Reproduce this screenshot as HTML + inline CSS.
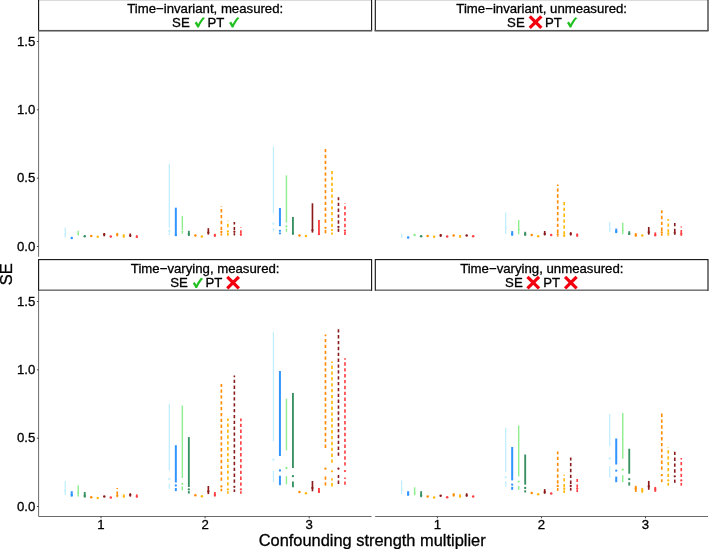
<!DOCTYPE html>
<html><head><meta charset="utf-8"><title>SE by confounding strength multiplier</title>
<style>
html,body{margin:0;padding:0;background:#fff}
svg{display:block}
text{font-family:"Liberation Sans",sans-serif;fill:#000;stroke:#000;stroke-width:.3px}
.tk{font-size:13.2px;fill:#000}
</style></head><body>
<svg width="709" height="549" viewBox="0 0 709 549">
<rect width="709" height="549" fill="#fff"/>
<!-- strips -->
<g fill="#fff" stroke="#111" stroke-width="1.1">
<rect x="38.6" y="-0.4" width="333" height="30.9"/>
<rect x="375.3" y="-0.4" width="332.7" height="30.9"/>
<rect x="38.6" y="259.6" width="333" height="30.7"/>
<rect x="375.3" y="259.6" width="332.7" height="30.7"/>
</g>
<path d="M39.2,290.3H371M375.7,290.3H707.4" stroke="#7a7a7a" stroke-width="1.2" fill="none"/>
<path d="M38.05,30.78H372.15M374.55,30.78H708.55" stroke="#555" stroke-width="1.66" fill="none"/>
<!-- axis lines -->
<g stroke="#6b6b6b" stroke-width="1" fill="none">
<path d="M38.6,30.5V256.8"/>
<path d="M38.6,290.6V516.5H371.6"/>
<path d="M375.1,516.5H708"/>
</g>
<!-- ticks -->
<g stroke="#333" stroke-width="0.9">
<path d="M36.9,41.5h1.7M36.9,109.8h1.7M36.9,178.2h1.7M36.9,246.5h1.7"/>
<path d="M36.9,301.5h1.7M36.9,369.8h1.7M36.9,438.2h1.7M36.9,506.5h1.7"/>
<path d="M101,516.5v1.8M205.1,516.5v1.8M309.2,516.5v1.8M437.4,516.5v1.8M541.45,516.5v1.8M645.5,516.5v1.8"/>
</g>
<g class="tk" text-anchor="end">
<text x="35.3" y="45.6">1.5</text><text x="35.3" y="113.9">1.0</text><text x="35.3" y="182.3">0.5</text><text x="35.3" y="250.6">0.0</text>
<text x="35.3" y="305.6">1.5</text><text x="35.3" y="373.9">1.0</text><text x="35.3" y="442.3">0.5</text><text x="35.3" y="510.6">0.0</text>
</g>
<g class="tk" text-anchor="middle">
<text x="101" y="529">1</text><text x="205.1" y="529">2</text><text x="309.2" y="529">3</text>
<text x="437.4" y="529">1</text><text x="541.45" y="529">2</text><text x="645.5" y="529">3</text>
</g>
<!-- strip labels -->
<g font-size="13.2" text-anchor="middle">
<text x="205.2" y="13.2">Time−invariant, measured:</text>
<text x="541.7" y="13.2">Time−invariant, unmeasured:</text>
<text x="205.2" y="273.3">Time−varying, measured:</text>
<text x="541.8" y="273.3">Time−varying, unmeasured:</text>
</g>
<g font-size="13.2">
<text x="172.1" y="26.5">SE</text><text x="207.5" y="26.5">PT</text>
<text x="507.1" y="26.5">SE</text><text x="544.9" y="26.5">PT</text>
<text x="170.2" y="287.1">SE</text><text x="205.4" y="287.1">PT</text>
<text x="505.1" y="287.1">SE</text><text x="543.3" y="287.1">PT</text>
</g>
<!-- check / cross icons -->
<path transform="translate(194.6,17.2)" d="M0,5.7 L1.9,4.2 L3.6,6.9 C4.8,4.2 6.4,1.9 8.3,0 L10.3,0.9 C7.8,3.6 5.8,6.8 4.3,10.3 L2.7,10.3 C2.0,8.6 1.1,7.0 0,5.7 Z" fill="#1FC01F"/><path transform="translate(229.1,17.2)" d="M0,5.7 L1.9,4.2 L3.6,6.9 C4.8,4.2 6.4,1.9 8.3,0 L10.3,0.9 C7.8,3.6 5.8,6.8 4.3,10.3 L2.7,10.3 C2.0,8.6 1.1,7.0 0,5.7 Z" fill="#1FC01F"/>
<g transform="translate(528.6,15.2)" stroke="#F2000E" stroke-width="3.2"><line x1="1.15" y1="1.15" x2="12.75" y2="12.75"/><line x1="12.75" y1="1.15" x2="1.15" y2="12.75"/></g><path transform="translate(567,17.2)" d="M0,5.7 L1.9,4.2 L3.6,6.9 C4.8,4.2 6.4,1.9 8.3,0 L10.3,0.9 C7.8,3.6 5.8,6.8 4.3,10.3 L2.7,10.3 C2.0,8.6 1.1,7.0 0,5.7 Z" fill="#1FC01F"/>
<path transform="translate(192.8,277.8)" d="M0,5.7 L1.9,4.2 L3.6,6.9 C4.8,4.2 6.4,1.9 8.3,0 L10.3,0.9 C7.8,3.6 5.8,6.8 4.3,10.3 L2.7,10.3 C2.0,8.6 1.1,7.0 0,5.7 Z" fill="#1FC01F"/><g transform="translate(226.1,275.7)" stroke="#F2000E" stroke-width="3.2"><line x1="1.15" y1="1.15" x2="12.75" y2="12.75"/><line x1="12.75" y1="1.15" x2="1.15" y2="12.75"/></g>
<g transform="translate(526.3,275.7)" stroke="#F2000E" stroke-width="3.2"><line x1="1.15" y1="1.15" x2="12.75" y2="12.75"/><line x1="12.75" y1="1.15" x2="1.15" y2="12.75"/></g><g transform="translate(563.9,275.7)" stroke="#F2000E" stroke-width="3.2"><line x1="1.15" y1="1.15" x2="12.75" y2="12.75"/><line x1="12.75" y1="1.15" x2="1.15" y2="12.75"/></g>
<!-- axis titles -->
<text x="372.2" y="546" font-size="16.4" text-anchor="middle">Confounding strength multiplier</text>
<text transform="translate(12.0,274.2) rotate(-90)" font-size="16.4" text-anchor="middle">SE</text>
<!-- data -->
<g fill="none">
<line x1="65.23" y1="237.50" x2="65.23" y2="227.50" stroke="#BFEFFF" stroke-width="1.25"/>
<circle cx="65.23" cy="234.30" r="0.9" fill="#BFEFFF"/>
<circle cx="71.73" cy="238.00" r="1.25" fill="#3095FF"/>
<line x1="78.24" y1="235.60" x2="78.24" y2="230.80" stroke="#90EE90" stroke-width="1.45"/>
<circle cx="78.24" cy="234.06" r="0.9" fill="#90EE90"/>
<circle cx="84.74" cy="236.30" r="1.25" fill="#369060"/>
<circle cx="91.24" cy="236.00" r="1.25" fill="#FF8C00"/>
<circle cx="97.75" cy="236.80" r="1.25" fill="#FFB90F"/>
<line x1="104.25" y1="236.30" x2="104.25" y2="233.00" stroke="#8B1A1A" stroke-width="1.65"/>
<circle cx="104.25" cy="234.50" r="1.15" fill="#8B1A1A"/>
<circle cx="110.76" cy="236.50" r="1.25" fill="#FF4044"/>
<line x1="117.26" y1="236.30" x2="117.26" y2="231.40" stroke="#FF8C00" stroke-width="1.65" stroke-dasharray="3.35 2.52"/>
<circle cx="117.26" cy="234.73" r="1.15" fill="#FF8C00"/>
<line x1="123.76" y1="237.50" x2="123.76" y2="234.20" stroke="#FFB90F" stroke-width="1.7" stroke-dasharray="3.35 2.52"/>
<circle cx="123.76" cy="236.44" r="1.15" fill="#FFB90F"/>
<line x1="130.27" y1="236.80" x2="130.27" y2="233.20" stroke="#8B1A1A" stroke-width="1.6" stroke-dasharray="3.35 2.52"/>
<circle cx="130.27" cy="235.65" r="1.15" fill="#8B1A1A"/>
<line x1="136.77" y1="237.80" x2="136.77" y2="235.20" stroke="#FF4044" stroke-width="1.65" stroke-dasharray="3.35 2.52"/>
<circle cx="136.77" cy="236.97" r="1.15" fill="#FF4044"/>
<line x1="169.33" y1="235.00" x2="169.33" y2="232.60" stroke="#BFEFFF" stroke-width="1.25"/>
<line x1="169.33" y1="227.80" x2="169.33" y2="163.70" stroke="#BFEFFF" stroke-width="1.25"/>
<circle cx="169.33" cy="231.00" r="1.15" fill="#BFEFFF"/>
<line x1="175.83" y1="236.10" x2="175.83" y2="207.70" stroke="#3095FF" stroke-width="2.0"/>
<circle cx="175.83" cy="235.00" r="1.15" fill="#3095FF"/>
<line x1="182.34" y1="233.80" x2="182.34" y2="232.80" stroke="#90EE90" stroke-width="1.45"/>
<line x1="182.34" y1="230.20" x2="182.34" y2="216.00" stroke="#90EE90" stroke-width="1.45"/>
<circle cx="182.34" cy="231.80" r="1.15" fill="#90EE90"/>
<line x1="188.84" y1="235.90" x2="188.84" y2="230.80" stroke="#369060" stroke-width="1.85"/>
<circle cx="188.84" cy="234.27" r="1.15" fill="#369060"/>
<circle cx="195.34" cy="235.50" r="1.25" fill="#FF8C00"/>
<circle cx="201.85" cy="236.50" r="1.25" fill="#FFB90F"/>
<line x1="208.35" y1="234.60" x2="208.35" y2="228.20" stroke="#8B1A1A" stroke-width="1.65"/>
<circle cx="208.35" cy="232.60" r="1.15" fill="#8B1A1A"/>
<line x1="214.86" y1="236.50" x2="214.86" y2="233.80" stroke="#FF4044" stroke-width="1.85"/>
<circle cx="214.86" cy="235.64" r="1.15" fill="#FF4044"/>
<line x1="221.36" y1="235.50" x2="221.36" y2="233.50" stroke="#FF8C00" stroke-width="1.65" stroke-dasharray="3.35 2.52"/>
<line x1="221.36" y1="230.00" x2="221.36" y2="206.00" stroke="#FF8C00" stroke-width="1.65" stroke-dasharray="3.35 2.52"/>
<circle cx="221.36" cy="232.00" r="1.15" fill="#FF8C00"/>
<line x1="227.86" y1="235.80" x2="227.86" y2="233.00" stroke="#FFB90F" stroke-width="1.7" stroke-dasharray="3.35 2.52"/>
<line x1="227.86" y1="227.20" x2="227.86" y2="220.70" stroke="#FFB90F" stroke-width="1.7" stroke-dasharray="3.35 2.52"/>
<circle cx="227.86" cy="231.50" r="1.15" fill="#FFB90F"/>
<line x1="234.37" y1="235.40" x2="234.37" y2="233.20" stroke="#8B1A1A" stroke-width="1.6" stroke-dasharray="3.35 2.52"/>
<line x1="234.37" y1="230.30" x2="234.37" y2="222.00" stroke="#8B1A1A" stroke-width="1.6" stroke-dasharray="3.35 2.52"/>
<circle cx="234.37" cy="231.80" r="1.15" fill="#8B1A1A"/>
<line x1="240.87" y1="235.80" x2="240.87" y2="235.00" stroke="#FF4044" stroke-width="1.65" stroke-dasharray="3.35 2.52"/>
<line x1="240.87" y1="233.50" x2="240.87" y2="227.30" stroke="#FF4044" stroke-width="1.65" stroke-dasharray="3.35 2.52"/>
<circle cx="240.87" cy="234.30" r="1.15" fill="#FF4044"/>
<line x1="273.43" y1="231.40" x2="273.43" y2="228.00" stroke="#BFEFFF" stroke-width="1.25"/>
<line x1="273.43" y1="213.50" x2="273.43" y2="146.40" stroke="#BFEFFF" stroke-width="1.25"/>
<circle cx="273.43" cy="223.70" r="1.15" fill="#BFEFFF"/>
<line x1="279.93" y1="234.30" x2="279.93" y2="232.50" stroke="#3095FF" stroke-width="2.0"/>
<line x1="279.93" y1="226.20" x2="279.93" y2="208.00" stroke="#3095FF" stroke-width="2.0"/>
<circle cx="279.93" cy="230.80" r="1.15" fill="#3095FF"/>
<line x1="286.44" y1="231.80" x2="286.44" y2="228.50" stroke="#90EE90" stroke-width="1.45"/>
<line x1="286.44" y1="222.70" x2="286.44" y2="175.40" stroke="#90EE90" stroke-width="1.45"/>
<circle cx="286.44" cy="226.40" r="1.15" fill="#90EE90"/>
<line x1="292.94" y1="234.70" x2="292.94" y2="217.00" stroke="#369060" stroke-width="1.85"/>
<circle cx="292.94" cy="233.20" r="1.15" fill="#369060"/>
<circle cx="299.44" cy="235.50" r="1.25" fill="#FF8C00"/>
<circle cx="305.95" cy="236.00" r="1.25" fill="#FFB90F"/>
<line x1="312.45" y1="232.60" x2="312.45" y2="203.30" stroke="#8B1A1A" stroke-width="1.65"/>
<circle cx="312.45" cy="230.30" r="1.15" fill="#8B1A1A"/>
<line x1="318.96" y1="235.10" x2="318.96" y2="220.10" stroke="#FF4044" stroke-width="1.85"/>
<circle cx="318.96" cy="234.20" r="1.15" fill="#FF4044"/>
<line x1="325.46" y1="233.30" x2="325.46" y2="230.00" stroke="#FF8C00" stroke-width="1.65" stroke-dasharray="3.35 2.52"/>
<line x1="325.46" y1="222.70" x2="325.46" y2="148.80" stroke="#FF8C00" stroke-width="1.65" stroke-dasharray="3.35 2.52"/>
<circle cx="325.46" cy="227.80" r="1.15" fill="#FF8C00"/>
<line x1="331.96" y1="234.70" x2="331.96" y2="232.40" stroke="#FFB90F" stroke-width="1.7" stroke-dasharray="3.35 2.52"/>
<line x1="331.96" y1="227.10" x2="331.96" y2="170.80" stroke="#FFB90F" stroke-width="1.7" stroke-dasharray="3.35 2.52"/>
<circle cx="331.96" cy="230.10" r="1.15" fill="#FFB90F"/>
<line x1="338.47" y1="231.90" x2="338.47" y2="228.50" stroke="#8B1A1A" stroke-width="1.6" stroke-dasharray="3.35 2.52"/>
<line x1="338.47" y1="223.70" x2="338.47" y2="197.30" stroke="#8B1A1A" stroke-width="1.6" stroke-dasharray="3.35 2.52"/>
<circle cx="338.47" cy="226.90" r="1.15" fill="#8B1A1A"/>
<line x1="344.97" y1="235.00" x2="344.97" y2="231.50" stroke="#FF4044" stroke-width="1.65" stroke-dasharray="3.35 2.52"/>
<line x1="344.97" y1="227.20" x2="344.97" y2="203.30" stroke="#FF4044" stroke-width="1.65" stroke-dasharray="3.35 2.52"/>
<circle cx="344.97" cy="230.60" r="1.15" fill="#FF4044"/>
<line x1="401.63" y1="237.50" x2="401.63" y2="233.70" stroke="#BFEFFF" stroke-width="1.25"/>
<circle cx="401.63" cy="236.28" r="0.9" fill="#BFEFFF"/>
<circle cx="408.13" cy="237.50" r="1.25" fill="#3095FF"/>
<circle cx="414.64" cy="235.00" r="1.25" fill="#90EE90"/>
<circle cx="421.14" cy="236.20" r="1.25" fill="#369060"/>
<circle cx="427.64" cy="236.00" r="1.25" fill="#FF8C00"/>
<circle cx="434.15" cy="236.80" r="1.25" fill="#FFB90F"/>
<line x1="440.65" y1="236.80" x2="440.65" y2="234.00" stroke="#8B1A1A" stroke-width="1.65"/>
<circle cx="440.65" cy="235.40" r="1.15" fill="#8B1A1A"/>
<circle cx="447.16" cy="236.60" r="1.25" fill="#FF4044"/>
<circle cx="453.66" cy="235.40" r="1.25" fill="#FF8C00"/>
<line x1="460.16" y1="237.50" x2="460.16" y2="235.00" stroke="#FFB90F" stroke-width="1.7" stroke-dasharray="3.35 2.52"/>
<circle cx="460.16" cy="236.70" r="1.15" fill="#FFB90F"/>
<circle cx="466.67" cy="235.40" r="1.25" fill="#8B1A1A"/>
<circle cx="473.17" cy="236.30" r="1.25" fill="#FF4044"/>
<line x1="505.68" y1="234.00" x2="505.68" y2="212.60" stroke="#BFEFFF" stroke-width="1.25"/>
<circle cx="505.68" cy="227.15" r="0.9" fill="#BFEFFF"/>
<line x1="512.18" y1="235.70" x2="512.18" y2="231.10" stroke="#3095FF" stroke-width="2.0"/>
<circle cx="512.18" cy="234.23" r="1.15" fill="#3095FF"/>
<line x1="518.69" y1="234.40" x2="518.69" y2="219.90" stroke="#90EE90" stroke-width="1.45"/>
<circle cx="518.69" cy="229.76" r="0.9" fill="#90EE90"/>
<line x1="525.19" y1="235.70" x2="525.19" y2="231.80" stroke="#369060" stroke-width="1.85"/>
<circle cx="525.19" cy="234.45" r="1.15" fill="#369060"/>
<circle cx="531.69" cy="235.10" r="1.25" fill="#FF8C00"/>
<circle cx="538.20" cy="236.20" r="1.25" fill="#FFB90F"/>
<line x1="544.70" y1="235.40" x2="544.70" y2="231.00" stroke="#8B1A1A" stroke-width="1.65"/>
<circle cx="544.70" cy="233.99" r="1.15" fill="#8B1A1A"/>
<circle cx="551.21" cy="235.00" r="1.25" fill="#FF4044"/>
<line x1="557.71" y1="236.60" x2="557.71" y2="235.30" stroke="#FF8C00" stroke-width="1.65" stroke-dasharray="3.35 2.52"/>
<line x1="557.71" y1="232.90" x2="557.71" y2="184.40" stroke="#FF8C00" stroke-width="1.65" stroke-dasharray="3.35 2.52"/>
<circle cx="557.71" cy="234.30" r="1.15" fill="#FF8C00"/>
<line x1="564.21" y1="236.80" x2="564.21" y2="236.00" stroke="#FFB90F" stroke-width="1.7" stroke-dasharray="3.35 2.52"/>
<line x1="564.21" y1="234.50" x2="564.21" y2="201.90" stroke="#FFB90F" stroke-width="1.7" stroke-dasharray="3.35 2.52"/>
<circle cx="564.21" cy="235.50" r="1.15" fill="#FFB90F"/>
<line x1="570.72" y1="235.50" x2="570.72" y2="230.80" stroke="#8B1A1A" stroke-width="1.6" stroke-dasharray="3.35 2.52"/>
<circle cx="570.72" cy="234.00" r="1.15" fill="#8B1A1A"/>
<line x1="577.22" y1="236.80" x2="577.22" y2="231.90" stroke="#FF4044" stroke-width="1.65" stroke-dasharray="3.35 2.52"/>
<circle cx="577.22" cy="235.23" r="1.15" fill="#FF4044"/>
<line x1="609.73" y1="232.20" x2="609.73" y2="222.00" stroke="#BFEFFF" stroke-width="1.25"/>
<circle cx="609.73" cy="228.94" r="0.9" fill="#BFEFFF"/>
<line x1="616.23" y1="233.10" x2="616.23" y2="228.60" stroke="#3095FF" stroke-width="2.0"/>
<circle cx="616.23" cy="231.66" r="1.15" fill="#3095FF"/>
<line x1="622.74" y1="234.30" x2="622.74" y2="222.70" stroke="#90EE90" stroke-width="1.45"/>
<circle cx="622.74" cy="230.59" r="0.9" fill="#90EE90"/>
<line x1="629.24" y1="235.00" x2="629.24" y2="231.20" stroke="#369060" stroke-width="1.85"/>
<circle cx="629.24" cy="233.78" r="1.15" fill="#369060"/>
<line x1="635.74" y1="236.50" x2="635.74" y2="233.10" stroke="#FF8C00" stroke-width="1.8"/>
<circle cx="635.74" cy="235.41" r="1.15" fill="#FF8C00"/>
<circle cx="642.25" cy="235.60" r="1.25" fill="#FFB90F"/>
<line x1="648.75" y1="234.70" x2="648.75" y2="227.00" stroke="#8B1A1A" stroke-width="1.65"/>
<circle cx="648.75" cy="232.24" r="1.15" fill="#8B1A1A"/>
<line x1="655.26" y1="236.30" x2="655.26" y2="232.40" stroke="#FF4044" stroke-width="1.85"/>
<circle cx="655.26" cy="235.05" r="1.15" fill="#FF4044"/>
<line x1="661.76" y1="235.70" x2="661.76" y2="233.60" stroke="#FF8C00" stroke-width="1.65" stroke-dasharray="3.35 2.52"/>
<line x1="661.76" y1="230.90" x2="661.76" y2="210.20" stroke="#FF8C00" stroke-width="1.65" stroke-dasharray="3.35 2.52"/>
<circle cx="661.76" cy="232.40" r="1.15" fill="#FF8C00"/>
<line x1="668.26" y1="235.70" x2="668.26" y2="234.50" stroke="#FFB90F" stroke-width="1.7" stroke-dasharray="3.35 2.52"/>
<line x1="668.26" y1="232.60" x2="668.26" y2="218.90" stroke="#FFB90F" stroke-width="1.7" stroke-dasharray="3.35 2.52"/>
<circle cx="668.26" cy="233.60" r="1.15" fill="#FFB90F"/>
<line x1="674.77" y1="234.80" x2="674.77" y2="233.60" stroke="#8B1A1A" stroke-width="1.6" stroke-dasharray="3.35 2.52"/>
<line x1="674.77" y1="232.00" x2="674.77" y2="222.90" stroke="#8B1A1A" stroke-width="1.6" stroke-dasharray="3.35 2.52"/>
<circle cx="674.77" cy="232.90" r="1.15" fill="#8B1A1A"/>
<line x1="681.27" y1="235.80" x2="681.27" y2="234.60" stroke="#FF4044" stroke-width="1.65" stroke-dasharray="3.35 2.52"/>
<line x1="681.27" y1="233.30" x2="681.27" y2="226.60" stroke="#FF4044" stroke-width="1.65" stroke-dasharray="3.35 2.52"/>
<circle cx="681.27" cy="234.00" r="1.15" fill="#FF4044"/>
<line x1="65.23" y1="495.20" x2="65.23" y2="481.00" stroke="#BFEFFF" stroke-width="1.25"/>
<circle cx="65.23" cy="490.66" r="0.9" fill="#BFEFFF"/>
<line x1="71.73" y1="496.60" x2="71.73" y2="491.20" stroke="#3095FF" stroke-width="2.0"/>
<circle cx="71.73" cy="495.00" r="1.15" fill="#3095FF"/>
<line x1="78.24" y1="496.40" x2="78.24" y2="485.60" stroke="#90EE90" stroke-width="1.45"/>
<circle cx="78.24" cy="492.94" r="0.9" fill="#90EE90"/>
<line x1="84.74" y1="497.50" x2="84.74" y2="492.00" stroke="#369060" stroke-width="1.85"/>
<circle cx="84.74" cy="496.00" r="1.15" fill="#369060"/>
<circle cx="91.24" cy="497.20" r="1.25" fill="#FF8C00"/>
<circle cx="97.75" cy="498.10" r="1.25" fill="#FFB90F"/>
<circle cx="104.25" cy="496.60" r="1.25" fill="#8B1A1A"/>
<circle cx="110.76" cy="497.50" r="1.25" fill="#FF4044"/>
<line x1="117.26" y1="497.20" x2="117.26" y2="496.20" stroke="#FF8C00" stroke-width="1.65" stroke-dasharray="3.35 2.52"/>
<line x1="117.26" y1="494.80" x2="117.26" y2="487.90" stroke="#FF8C00" stroke-width="1.65" stroke-dasharray="3.35 2.52"/>
<circle cx="117.26" cy="495.60" r="1.15" fill="#FF8C00"/>
<line x1="123.76" y1="497.70" x2="123.76" y2="493.10" stroke="#FFB90F" stroke-width="1.7" stroke-dasharray="3.35 2.52"/>
<circle cx="123.76" cy="496.30" r="1.15" fill="#FFB90F"/>
<line x1="130.27" y1="496.60" x2="130.27" y2="492.00" stroke="#8B1A1A" stroke-width="1.6" stroke-dasharray="3.35 2.52"/>
<circle cx="130.27" cy="495.00" r="1.15" fill="#8B1A1A"/>
<line x1="136.77" y1="497.70" x2="136.77" y2="493.10" stroke="#FF4044" stroke-width="1.65" stroke-dasharray="3.35 2.52"/>
<circle cx="136.77" cy="496.30" r="1.15" fill="#FF4044"/>
<line x1="169.33" y1="488.80" x2="169.33" y2="483.80" stroke="#BFEFFF" stroke-width="1.25"/>
<line x1="169.33" y1="470.40" x2="169.33" y2="403.70" stroke="#BFEFFF" stroke-width="1.25"/>
<circle cx="169.33" cy="479.00" r="1.15" fill="#BFEFFF"/>
<line x1="175.83" y1="491.10" x2="175.83" y2="488.00" stroke="#3095FF" stroke-width="2.0"/>
<line x1="175.83" y1="482.50" x2="175.83" y2="445.20" stroke="#3095FF" stroke-width="2.0"/>
<circle cx="175.83" cy="485.50" r="1.15" fill="#3095FF"/>
<line x1="182.34" y1="490.50" x2="182.34" y2="486.40" stroke="#90EE90" stroke-width="1.45"/>
<line x1="182.34" y1="478.10" x2="182.34" y2="405.70" stroke="#90EE90" stroke-width="1.45"/>
<circle cx="182.34" cy="483.80" r="1.15" fill="#90EE90"/>
<line x1="188.84" y1="493.50" x2="188.84" y2="491.10" stroke="#369060" stroke-width="1.85"/>
<line x1="188.84" y1="487.00" x2="188.84" y2="437.10" stroke="#369060" stroke-width="1.85"/>
<circle cx="188.84" cy="489.40" r="1.15" fill="#369060"/>
<circle cx="195.34" cy="495.30" r="1.25" fill="#FF8C00"/>
<circle cx="201.85" cy="496.20" r="1.25" fill="#FFB90F"/>
<line x1="208.35" y1="494.10" x2="208.35" y2="486.00" stroke="#8B1A1A" stroke-width="1.65"/>
<circle cx="208.35" cy="491.51" r="1.15" fill="#8B1A1A"/>
<line x1="214.86" y1="496.50" x2="214.86" y2="492.00" stroke="#FF4044" stroke-width="1.85"/>
<circle cx="214.86" cy="495.06" r="1.15" fill="#FF4044"/>
<line x1="221.36" y1="491.30" x2="221.36" y2="488.80" stroke="#FF8C00" stroke-width="1.65" stroke-dasharray="3.35 2.52"/>
<line x1="221.36" y1="480.80" x2="221.36" y2="384.00" stroke="#FF8C00" stroke-width="1.65" stroke-dasharray="3.35 2.52"/>
<circle cx="221.36" cy="486.40" r="1.15" fill="#FF8C00"/>
<line x1="227.86" y1="493.80" x2="227.86" y2="491.20" stroke="#FFB90F" stroke-width="1.7" stroke-dasharray="3.35 2.52"/>
<line x1="227.86" y1="485.60" x2="227.86" y2="418.50" stroke="#FFB90F" stroke-width="1.7" stroke-dasharray="3.35 2.52"/>
<circle cx="227.86" cy="489.40" r="1.15" fill="#FFB90F"/>
<line x1="234.37" y1="492.00" x2="234.37" y2="489.40" stroke="#8B1A1A" stroke-width="1.6" stroke-dasharray="3.35 2.52"/>
<line x1="234.37" y1="482.80" x2="234.37" y2="375.60" stroke="#8B1A1A" stroke-width="1.6" stroke-dasharray="3.35 2.52"/>
<circle cx="234.37" cy="486.80" r="1.15" fill="#8B1A1A"/>
<line x1="240.87" y1="493.80" x2="240.87" y2="491.20" stroke="#FF4044" stroke-width="1.65" stroke-dasharray="3.35 2.52"/>
<line x1="240.87" y1="485.80" x2="240.87" y2="418.50" stroke="#FF4044" stroke-width="1.65" stroke-dasharray="3.35 2.52"/>
<circle cx="240.87" cy="489.30" r="1.15" fill="#FF4044"/>
<line x1="273.43" y1="482.30" x2="273.43" y2="470.80" stroke="#BFEFFF" stroke-width="1.25"/>
<line x1="273.43" y1="441.30" x2="273.43" y2="331.80" stroke="#BFEFFF" stroke-width="1.25"/>
<circle cx="273.43" cy="459.70" r="1.15" fill="#BFEFFF"/>
<line x1="279.93" y1="485.20" x2="279.93" y2="475.70" stroke="#3095FF" stroke-width="2.0"/>
<line x1="279.93" y1="456.00" x2="279.93" y2="371.00" stroke="#3095FF" stroke-width="2.0"/>
<circle cx="279.93" cy="470.50" r="1.15" fill="#3095FF"/>
<line x1="286.44" y1="484.30" x2="286.44" y2="476.20" stroke="#90EE90" stroke-width="1.45"/>
<line x1="286.44" y1="450.30" x2="286.44" y2="398.70" stroke="#90EE90" stroke-width="1.45"/>
<circle cx="286.44" cy="468.00" r="1.15" fill="#90EE90"/>
<line x1="292.94" y1="487.20" x2="292.94" y2="481.50" stroke="#369060" stroke-width="1.85"/>
<line x1="292.94" y1="468.00" x2="292.94" y2="392.90" stroke="#369060" stroke-width="1.85"/>
<circle cx="292.94" cy="476.20" r="1.15" fill="#369060"/>
<circle cx="299.44" cy="492.10" r="1.25" fill="#FF8C00"/>
<circle cx="305.95" cy="493.30" r="1.25" fill="#FFB90F"/>
<line x1="312.45" y1="491.30" x2="312.45" y2="481.00" stroke="#8B1A1A" stroke-width="1.65"/>
<circle cx="312.45" cy="488.00" r="1.15" fill="#8B1A1A"/>
<line x1="318.96" y1="493.00" x2="318.96" y2="488.00" stroke="#FF4044" stroke-width="1.85"/>
<circle cx="318.96" cy="491.40" r="1.15" fill="#FF4044"/>
<line x1="325.46" y1="485.60" x2="325.46" y2="476.60" stroke="#FF8C00" stroke-width="1.65" stroke-dasharray="3.35 2.52"/>
<line x1="325.46" y1="447.90" x2="325.46" y2="334.60" stroke="#FF8C00" stroke-width="1.65" stroke-dasharray="3.35 2.52"/>
<circle cx="325.46" cy="468.70" r="1.15" fill="#FF8C00"/>
<line x1="331.96" y1="486.40" x2="331.96" y2="478.20" stroke="#FFB90F" stroke-width="1.7" stroke-dasharray="3.35 2.52"/>
<line x1="331.96" y1="462.80" x2="331.96" y2="361.50" stroke="#FFB90F" stroke-width="1.7" stroke-dasharray="3.35 2.52"/>
<circle cx="331.96" cy="471.30" r="1.15" fill="#FFB90F"/>
<line x1="338.47" y1="483.90" x2="338.47" y2="474.90" stroke="#8B1A1A" stroke-width="1.6" stroke-dasharray="3.35 2.52"/>
<line x1="338.47" y1="455.80" x2="338.47" y2="329.10" stroke="#8B1A1A" stroke-width="1.6" stroke-dasharray="3.35 2.52"/>
<circle cx="338.47" cy="468.70" r="1.15" fill="#8B1A1A"/>
<line x1="344.97" y1="484.80" x2="344.97" y2="477.40" stroke="#FF4044" stroke-width="1.65" stroke-dasharray="3.35 2.52"/>
<line x1="344.97" y1="465.50" x2="344.97" y2="358.30" stroke="#FF4044" stroke-width="1.65" stroke-dasharray="3.35 2.52"/>
<circle cx="344.97" cy="471.10" r="1.15" fill="#FF4044"/>
<line x1="401.63" y1="494.30" x2="401.63" y2="480.40" stroke="#BFEFFF" stroke-width="1.25"/>
<circle cx="401.63" cy="489.85" r="0.9" fill="#BFEFFF"/>
<line x1="408.13" y1="495.70" x2="408.13" y2="491.20" stroke="#3095FF" stroke-width="2.0"/>
<circle cx="408.13" cy="494.26" r="1.15" fill="#3095FF"/>
<line x1="414.64" y1="495.40" x2="414.64" y2="487.30" stroke="#90EE90" stroke-width="1.45"/>
<circle cx="414.64" cy="492.81" r="0.9" fill="#90EE90"/>
<line x1="421.14" y1="497.20" x2="421.14" y2="491.20" stroke="#369060" stroke-width="1.85"/>
<circle cx="421.14" cy="495.28" r="1.15" fill="#369060"/>
<circle cx="427.64" cy="496.60" r="1.25" fill="#FF8C00"/>
<circle cx="434.15" cy="497.50" r="1.25" fill="#FFB90F"/>
<circle cx="440.65" cy="495.80" r="1.25" fill="#8B1A1A"/>
<circle cx="447.16" cy="497.20" r="1.25" fill="#FF4044"/>
<line x1="453.66" y1="496.60" x2="453.66" y2="491.40" stroke="#FF8C00" stroke-width="1.65" stroke-dasharray="3.35 2.52"/>
<circle cx="453.66" cy="494.94" r="1.15" fill="#FF8C00"/>
<line x1="460.16" y1="497.50" x2="460.16" y2="494.00" stroke="#FFB90F" stroke-width="1.7" stroke-dasharray="3.35 2.52"/>
<circle cx="460.16" cy="496.38" r="1.15" fill="#FFB90F"/>
<line x1="466.67" y1="496.60" x2="466.67" y2="493.10" stroke="#8B1A1A" stroke-width="1.6" stroke-dasharray="3.35 2.52"/>
<circle cx="466.67" cy="495.48" r="1.15" fill="#8B1A1A"/>
<circle cx="473.17" cy="496.40" r="1.25" fill="#FF4044"/>
<line x1="505.68" y1="486.80" x2="505.68" y2="481.60" stroke="#BFEFFF" stroke-width="1.25"/>
<line x1="505.68" y1="472.10" x2="505.68" y2="428.00" stroke="#BFEFFF" stroke-width="1.25"/>
<circle cx="505.68" cy="477.30" r="1.15" fill="#BFEFFF"/>
<line x1="512.18" y1="489.80" x2="512.18" y2="486.80" stroke="#3095FF" stroke-width="2.0"/>
<line x1="512.18" y1="480.40" x2="512.18" y2="447.00" stroke="#3095FF" stroke-width="2.0"/>
<circle cx="512.18" cy="484.70" r="1.15" fill="#3095FF"/>
<line x1="518.69" y1="489.80" x2="518.69" y2="486.00" stroke="#90EE90" stroke-width="1.45"/>
<line x1="518.69" y1="476.40" x2="518.69" y2="425.40" stroke="#90EE90" stroke-width="1.45"/>
<circle cx="518.69" cy="481.60" r="1.15" fill="#90EE90"/>
<line x1="525.19" y1="492.50" x2="525.19" y2="490.30" stroke="#369060" stroke-width="1.85"/>
<line x1="525.19" y1="484.70" x2="525.19" y2="454.50" stroke="#369060" stroke-width="1.85"/>
<circle cx="525.19" cy="488.00" r="1.15" fill="#369060"/>
<circle cx="531.69" cy="492.90" r="1.25" fill="#FF8C00"/>
<circle cx="538.20" cy="494.30" r="1.25" fill="#FFB90F"/>
<line x1="544.70" y1="493.70" x2="544.70" y2="489.10" stroke="#8B1A1A" stroke-width="1.65"/>
<circle cx="544.70" cy="492.23" r="1.15" fill="#8B1A1A"/>
<circle cx="551.21" cy="493.40" r="1.25" fill="#FF4044"/>
<line x1="557.71" y1="490.80" x2="557.71" y2="488.10" stroke="#FF8C00" stroke-width="1.65" stroke-dasharray="3.35 2.52"/>
<line x1="557.71" y1="483.60" x2="557.71" y2="451.50" stroke="#FF8C00" stroke-width="1.65" stroke-dasharray="3.35 2.52"/>
<circle cx="557.71" cy="486.00" r="1.15" fill="#FF8C00"/>
<line x1="564.21" y1="493.00" x2="564.21" y2="490.30" stroke="#FFB90F" stroke-width="1.7" stroke-dasharray="3.35 2.52"/>
<line x1="564.21" y1="487.40" x2="564.21" y2="474.70" stroke="#FFB90F" stroke-width="1.7" stroke-dasharray="3.35 2.52"/>
<circle cx="564.21" cy="488.80" r="1.15" fill="#FFB90F"/>
<line x1="570.72" y1="490.60" x2="570.72" y2="487.90" stroke="#8B1A1A" stroke-width="1.6" stroke-dasharray="3.35 2.52"/>
<line x1="570.72" y1="483.90" x2="570.72" y2="457.40" stroke="#8B1A1A" stroke-width="1.6" stroke-dasharray="3.35 2.52"/>
<circle cx="570.72" cy="486.00" r="1.15" fill="#8B1A1A"/>
<line x1="577.22" y1="492.10" x2="577.22" y2="490.00" stroke="#FF4044" stroke-width="1.65" stroke-dasharray="3.35 2.52"/>
<line x1="577.22" y1="487.80" x2="577.22" y2="479.00" stroke="#FF4044" stroke-width="1.65" stroke-dasharray="3.35 2.52"/>
<circle cx="577.22" cy="488.80" r="1.15" fill="#FF4044"/>
<line x1="609.73" y1="477.80" x2="609.73" y2="466.10" stroke="#BFEFFF" stroke-width="1.25"/>
<line x1="609.73" y1="446.50" x2="609.73" y2="414.00" stroke="#BFEFFF" stroke-width="1.25"/>
<circle cx="609.73" cy="458.50" r="1.15" fill="#BFEFFF"/>
<line x1="616.23" y1="482.20" x2="616.23" y2="476.60" stroke="#3095FF" stroke-width="2.0"/>
<line x1="616.23" y1="464.50" x2="616.23" y2="438.50" stroke="#3095FF" stroke-width="2.0"/>
<circle cx="616.23" cy="470.70" r="1.15" fill="#3095FF"/>
<line x1="622.74" y1="482.20" x2="622.74" y2="475.20" stroke="#90EE90" stroke-width="1.45"/>
<line x1="622.74" y1="458.70" x2="622.74" y2="413.00" stroke="#90EE90" stroke-width="1.45"/>
<circle cx="622.74" cy="469.70" r="1.15" fill="#90EE90"/>
<line x1="629.24" y1="485.60" x2="629.24" y2="482.20" stroke="#369060" stroke-width="1.85"/>
<line x1="629.24" y1="473.70" x2="629.24" y2="448.70" stroke="#369060" stroke-width="1.85"/>
<circle cx="629.24" cy="479.20" r="1.15" fill="#369060"/>
<line x1="635.74" y1="491.90" x2="635.74" y2="485.80" stroke="#FF8C00" stroke-width="1.8"/>
<circle cx="635.74" cy="488.50" r="1.15" fill="#FF8C00"/>
<line x1="642.25" y1="492.80" x2="642.25" y2="487.90" stroke="#FFB90F" stroke-width="1.8"/>
<circle cx="642.25" cy="490.30" r="1.15" fill="#FFB90F"/>
<line x1="648.75" y1="489.80" x2="648.75" y2="480.90" stroke="#8B1A1A" stroke-width="1.65"/>
<circle cx="648.75" cy="486.40" r="1.15" fill="#8B1A1A"/>
<line x1="655.26" y1="491.90" x2="655.26" y2="486.90" stroke="#FF4044" stroke-width="1.85"/>
<circle cx="655.26" cy="489.40" r="1.15" fill="#FF4044"/>
<line x1="661.76" y1="482.10" x2="661.76" y2="479.30" stroke="#FF8C00" stroke-width="1.65" stroke-dasharray="3.35 2.52"/>
<line x1="661.76" y1="469.80" x2="661.76" y2="413.50" stroke="#FF8C00" stroke-width="1.65" stroke-dasharray="3.35 2.52"/>
<circle cx="661.76" cy="475.20" r="1.15" fill="#FF8C00"/>
<line x1="668.26" y1="485.70" x2="668.26" y2="482.90" stroke="#FFB90F" stroke-width="1.7" stroke-dasharray="3.35 2.52"/>
<line x1="668.26" y1="477.10" x2="668.26" y2="447.20" stroke="#FFB90F" stroke-width="1.7" stroke-dasharray="3.35 2.52"/>
<circle cx="668.26" cy="480.40" r="1.15" fill="#FFB90F"/>
<line x1="674.77" y1="482.80" x2="674.77" y2="479.60" stroke="#8B1A1A" stroke-width="1.6" stroke-dasharray="3.35 2.52"/>
<line x1="674.77" y1="472.70" x2="674.77" y2="451.70" stroke="#8B1A1A" stroke-width="1.6" stroke-dasharray="3.35 2.52"/>
<circle cx="674.77" cy="476.30" r="1.15" fill="#8B1A1A"/>
<line x1="681.27" y1="485.70" x2="681.27" y2="482.90" stroke="#FF4044" stroke-width="1.65" stroke-dasharray="3.35 2.52"/>
<line x1="681.27" y1="477.10" x2="681.27" y2="458.00" stroke="#FF4044" stroke-width="1.65" stroke-dasharray="3.35 2.52"/>
<circle cx="681.27" cy="480.40" r="1.15" fill="#FF4044"/>
</g>
</svg>
</body></html>
